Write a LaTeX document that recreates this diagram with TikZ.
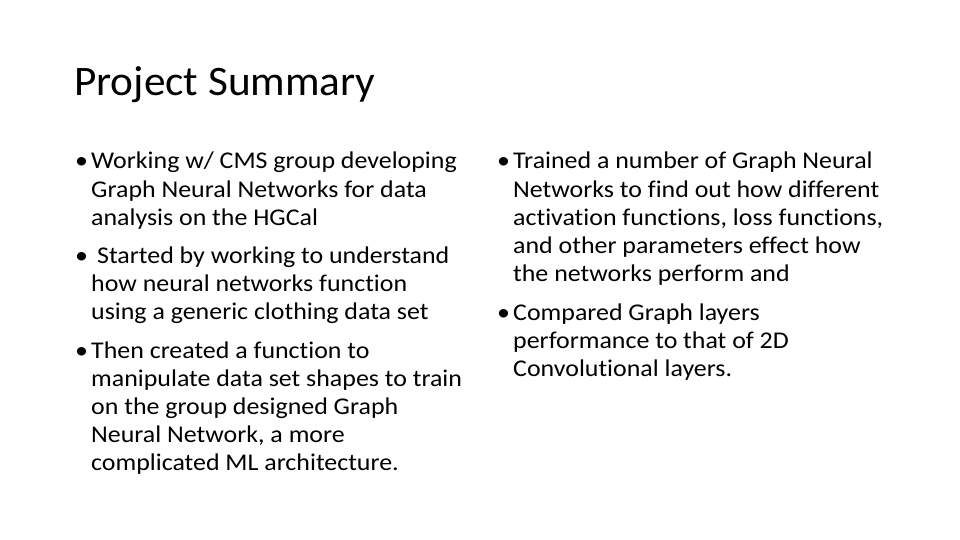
\documentclass[tikz,border=0pt]{standalone}
\usepackage{fontspec}
\setmainfont[Ligatures=NoCommon]{Carlito}
\newfontfamily\bodyf[Ligatures=NoCommon,FakeStretch=1.08]{Carlito}
\newfontfamily\titlef[Ligatures=NoCommon,FakeStretch=1.03]{Carlito}
\begin{document}
\begin{tikzpicture}[x=1pt,y=-1pt,
 ln/.style={anchor=base west,inner sep=0pt,font=\bodyf\fontsize{24}{29}\selectfont},
 tt/.style={anchor=base west,inner sep=0pt,font=\titlef\fontsize{42}{50}\selectfont}]
\useasboundingbox (0,0) rectangle (960,540);
\node[tt] (title) at (74,96) {Project Summary};
% left column
\node[ln] (b1) at (75,169) {•};
\node[ln] (l1) at (91,169) {Working w/ CMS group developing};
\node[ln] (l2) at (91,197) {Graph Neural Networks for data};
\node[ln] (l3) at (91,225) {analysis on the HGCal};
\node[ln] (b2) at (75,263) {•};
\node[ln] (l4) at (97,263) {Started by working to understand};
\node[ln] (l5) at (91,291) {how neural networks function};
\node[ln] (l6) at (91,319) {using a generic clothing data set};
\node[ln] (b3) at (75,358) {•};
\node[ln] (l7) at (91,358) {Then created a function to};
\node[ln] (l8) at (91,386) {manipulate data set shapes to train};
\node[ln] (l9) at (91,414) {on the group designed Graph};
\node[ln] (l10) at (91,442) {Neural Network, a more};
\node[ln] (l11) at (91,470) {complicated ML architecture.};
% right column
\node[ln] (r0) at (497,169) {•};
\node[ln] (r1) at (513,169) {Trained a number of Graph Neural};
\node[ln] (r2) at (513,197) {Networks to find out how different};
\node[ln] (r3) at (513,225) {activation functions, loss functions,};
\node[ln] (r4) at (513,253) {and other parameters effect how};
\node[ln] (r5) at (513,281) {the networks perform and};
\node[ln] (rb) at (497,320) {•};
\node[ln] (r6) at (513,320) {Compared Graph layers};
\node[ln] (r7) at (513,348) {performance to that of 2D};
\node[ln] (r8) at (513,376) {Convolutional layers.};
\end{tikzpicture}
\end{document}
